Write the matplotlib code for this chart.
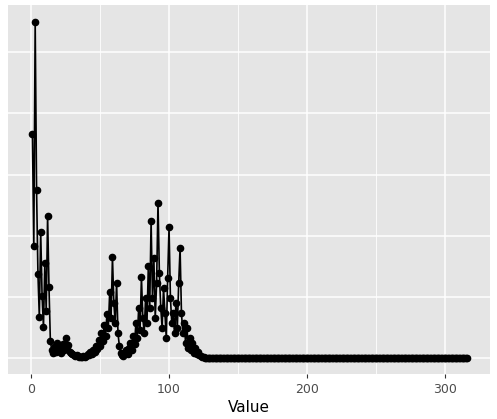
import matplotlib
matplotlib.use("Agg")
import matplotlib.pyplot as plt
import numpy as np

head = [224,112,336,168,84,41,126,62,31,95,47,142,71,17,8,5,12,6,15,7,10,5,14,8,20,9,13,6,5,4,
        3,2,3,2,1,1,1,2,1,2,4,3,6,4,8,6,12,9,18,12,25,17,33,22,44,30,66,40,101,55,
        35,75,25,12,5,3,2,5,8,4,10,15,8,22,14,35,20,50,28,81,40,25,60,35,92,50,137,60,100,40,
        75,155,85,50,30,70,45,20,80,131,60,35,45,25,55,30,75,110,45,25,35,15,30,10,20,8,15,5,10,4,
        6,3,2,1,1]
n_total = 316
values = head + [0]*(n_total-len(head))
x = np.arange(1, n_total+1)

fig = plt.figure(figsize=(4.97,4.19), dpi=100)
ax = fig.add_axes([8/497, 45/419, 482/497, 369/419])
ax.set_facecolor("#E5E5E5")
ax.plot(x, values, color="black", lw=1.2, marker="o", ms=4.5, zorder=3)
ax.set_xlim(-16.7, 332.6)
ax.set_ylim(-16, 353)
ax.set_xticks([0,100,200,300])
ax.set_xticks([50,150,250], minor=True)
yt = [0,61,122,183,245,306]
ax.set_yticks(yt)
ax.set_yticklabels([])
ax.grid(which="major", color="white", lw=1.1)
ax.grid(which="minor", axis="x", color="white", lw=0.6)
ax.tick_params(axis="y", length=0)
ax.tick_params(axis="x", which="major", colors="#333333", labelcolor="#4D4D4D", length=3, labelsize=9)
ax.tick_params(axis="x", which="minor", length=0)
for s in ax.spines.values():
    s.set_visible(False)
ax.set_axisbelow(True)
ax.set_xlabel("Value", fontsize=11, labelpad=3)
fig.savefig("out.png", dpi=100)
